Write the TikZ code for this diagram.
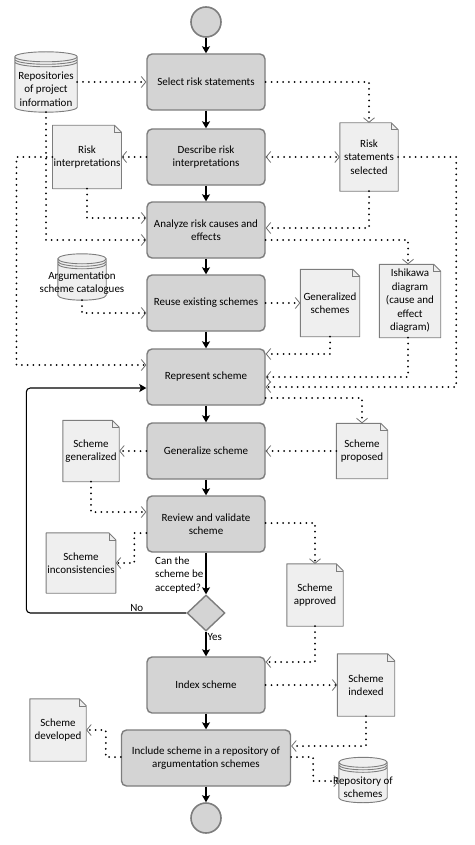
\documentclass[tikz,border=0pt]{standalone}
\usepackage{fontspec}
\setmainfont{Carlito}
\usetikzlibrary{shapes.geometric,arrows.meta,backgrounds,calc}

\definecolor{actgray}{RGB}{212,212,212}
\definecolor{edgegray}{RGB}{125,125,125}
\definecolor{paper}{RGB}{239,239,239}
\definecolor{tipgray}{RGB}{110,110,110}

\tikzset{
  barb/.tip={Straight Barb[length=4.5pt,width=11pt,line width=0.8pt,color=tipgray]},
  activity/.style={rectangle,rounded corners=5pt,draw=edgegray,line width=1.4pt,fill=actgray,
    minimum width=118pt,minimum height=56pt,align=center},
  terminal/.style={circle,draw=edgegray,line width=1.6pt,fill=actgray,minimum size=30pt,inner sep=0pt},
  choice/.style={diamond,draw=edgegray,line width=1.4pt,fill=actgray,minimum width=38pt,minimum height=36pt,inner sep=0pt},
  artifact/.style={rectangle,inner sep=1pt,align=center},
  repo/.style={rectangle,inner sep=0pt},
  flow/.style={line width=1.1pt,-{Stealth[length=7pt,width=8pt,inset=1.5pt]}},
  assoc/.style={line width=2pt,line cap=round,dash pattern=on 0pt off 5.8pt,-barb},
}

\begin{document}
\begin{tikzpicture}[x=1pt,y=-1pt,font=\fontsize{11}{13.5}\selectfont]
  \useasboundingbox (0,0) rectangle (474,845);

  % main flow
  \node[terminal] (start) at (206,22) {};
  \node[activity] (select) at (206,82) {Select risk statements};
  \node[activity] (describe) at (206,157) {Describe risk\\interpretations};
  \node[activity] (analyze) at (206,230) {Analyze risk causes and\\effects};
  \node[activity] (reuse) at (206,303) {Reuse existing schemes};
  \node[activity] (represent) at (206,377) {Represent scheme};
  \node[activity] (generalize) at (206,451) {Generalize scheme};
  \node[activity] (review) at (206,524) {Review and validate\\scheme};
  \node[choice] (accept) at (206,613) {};
  \node[activity] (index) at (206,685) {Index scheme};
  \node[activity,minimum width=169pt] (include) at (206,758) {Include scheme in a repository of\\argumentation schemes};
  \node[terminal] (stop) at (206,818) {};
  \node[anchor=west,align=left,inner sep=0pt] (question) at (155,575) {Can the\\scheme be\\accepted?};

  % documents
  \node[artifact,minimum width=55pt,minimum height=63pt] (riskint) at (87,157) {Risk\\interpretations};
  \node[artifact,minimum width=58pt,minimum height=68pt] (rsel) at (369,157) {Risk\\statements\\selected};
  \node[artifact,minimum width=59pt,minimum height=67pt] (gensch) at (330,303) {Generalized\\schemes};
  \node[artifact,minimum width=61pt,minimum height=73pt] (ishi) at (410,301) {Ishikawa\\diagram\\(cause and\\effect\\diagram)};
  \node[artifact,minimum width=51pt,minimum height=55pt] (proposed) at (362,451) {Scheme\\proposed};
  \node[artifact,minimum width=56pt,minimum height=61pt] (schgen) at (91,451) {Scheme\\generalized};
  \node[artifact,minimum width=58pt,minimum height=60pt] (inconsist) at (81,563) {Scheme\\inconsistencies};
  \node[artifact,minimum width=56pt,minimum height=62pt] (approved) at (315,595) {Scheme\\approved};
  \node[artifact,minimum width=57pt,minimum height=62pt] (indexed) at (366,685) {Scheme\\indexed};
  \node[artifact,minimum width=56pt,minimum height=62pt] (developed) at (58,730) {Scheme\\developed};

  % repositories
  \node[repo,minimum width=62pt,minimum height=60pt,
    label={[align=center,yshift=-7pt]center:{Repositories\\of project\\information}}] (projrepo) at (46,82) {};
  \node[repo,minimum width=48pt,minimum height=46pt,
    label={[align=center,yshift=-6pt]center:{Argumentation\\scheme catalogues}}] (catalog) at (82,277) {};
  \node[repo,minimum width=48pt,minimum height=45pt,
    label={[align=center,yshift=-7pt]center:{Repository of\\schemes}}] (schrepo) at (363,780) {};

  \begin{scope}[on background layer]
    \foreach \d in {riskint,rsel,gensch,ishi,proposed,schgen,inconsist,approved,indexed,developed} {
      \draw[edgegray,fill=paper,line width=0.9pt,line join=round]
        (\d.south west) -- (\d.north west) -- ([xshift=-7pt]\d.north east)
        -- ([yshift=-7pt]\d.north east) -- (\d.south east) -- cycle;
      \draw[edgegray,line width=0.6pt] ([xshift=-7pt]\d.north east) |- ([yshift=-7pt]\d.north east);
    }
    \foreach \c in {projrepo,catalog,schrepo} {
      \draw[edgegray,fill=paper,line width=0.9pt]
        let \p1=(\c.west), \p2=(\c.east), \n1={(\x2-\x1)/2} in
        ([yshift=-5pt]\c.north west) -- ([yshift=5pt]\c.south west)
        arc[start angle=180,end angle=360,x radius=\n1,y radius=5pt]
        -- ([yshift=-5pt]\c.north east)
        arc[start angle=0,end angle=180,x radius=\n1,y radius=5pt] -- cycle
        ([yshift=-5pt]\c.north west) arc[start angle=180,end angle=360,x radius=\n1,y radius=5pt]
        ([yshift=-7.5pt]\c.north west) arc[start angle=180,end angle=360,x radius=\n1,y radius=5pt]
        ([yshift=-10pt]\c.north west) arc[start angle=180,end angle=360,x radius=\n1,y radius=5pt];
    }
  \end{scope}

  % control flow
  \draw[flow] (start) -- (select);
  \draw[flow] (select) -- (describe);
  \draw[flow] (describe) -- (analyze);
  \draw[flow] (analyze) -- (reuse);
  \draw[flow] (reuse) -- (represent);
  \draw[flow] (represent) -- (generalize);
  \draw[flow] (generalize) -- (review);
  \draw[flow] (review) -- (accept);
  \draw[flow] (accept) -- node[pos=0.2,anchor=west,inner sep=1pt] {Yes} (index);
  \draw[flow] (index) -- (include);
  \draw[flow] (include) -- (stop);
  \draw[flow,rounded corners=4pt] (accept.west) -- node[pos=0.31,above,inner sep=1pt] {No} ++(-160,0)
    |- (represent.west |- 0,388);

  % object flow
  \draw[assoc] (projrepo.east) -- (select.west);
  \draw[assoc] (select.east) -| (rsel.north);
  \draw[assoc] (describe.west) -- (riskint.east);
  \draw[assoc,barb-barb] (describe.east) -- (rsel.west);
  \draw[assoc] (rsel.east) -- ++(58,0) |- (represent.east |- 0,387);
  \draw[assoc] (rsel.south) |- (analyze.east |- 0,228);
  \draw[assoc] (analyze.east |- 0,240) -| ([xshift=-2pt]ishi.north);
  \draw[assoc] (riskint.west) -- ++(-36,0) |- (represent.west |- 0,365);
  \draw[assoc] (projrepo.south) |- (analyze.west |- 0,240);
  \draw[assoc] (riskint.south) |- (analyze.west |- 0,218);
  \draw[assoc] (catalog.south) |- (reuse.west |- 0,313);
  \draw[assoc] (reuse.east) -- (gensch.west);
  \draw[assoc] (gensch.south) |- (represent.east |- 0,354);
  \draw[assoc] ([xshift=-2pt]ishi.south) |- (represent.east |- 0,377);
  \draw[assoc] (represent.east |- 0,398) -| (proposed.north);
  \draw[assoc] (proposed.west) -- (generalize.east);
  \draw[assoc] (generalize.west) -- (schgen.east);
  \draw[assoc] (schgen.south) |- (review.west |- 0,512);
  \draw[assoc] (review.west |- 0,533) -- ++(-12,0) |- (inconsist.east);
  \draw[assoc] (review.east |- 0,523) -| (approved.north);
  \draw[assoc] (approved.south) |- (index.east |- 0,662);
  \draw[assoc] (index.east) -- (indexed.west);
  \draw[assoc] (indexed.south) |- (include.east |- 0,746);
  \draw[assoc] (include.east |- 0,757) -- ++(22,0) |- (schrepo.west |- 0,781);
  \draw[assoc] (include.west |- 0,757) -- ++(-15,0) |- (developed.east);
\end{tikzpicture}
\end{document}
